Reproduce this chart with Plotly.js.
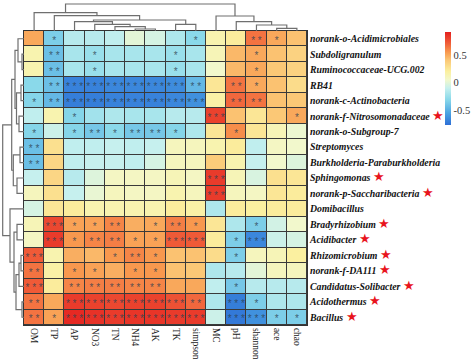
<!DOCTYPE html>
<html><head><meta charset="utf-8">
<script src="https://cdn.plot.ly/plotly-3.0.1.min.js"></script>
<style>html,body{margin:0;padding:0;background:#fff}#chart{width:474px;height:363px}</style>
</head><body><div id="chart"></div>
<script>
// ---------------- data ----------------
const columns = ['OM','TP','AP','NO3','TN','NH4','AK','TK','simpson','MC','pH','shannon','ace','chao'];
const genera = [
  'norank-o-Acidimicrobiales','Subdoligranulum','Ruminococcaceae-UCG.002','RB41',
  'norank-c-Actinobacteria','norank-f-Nitrosomonadaceae','norank-o-Subgroup-7','Streptomyces',
  'Burkholderia-Paraburkholderia','Sphingomonas','norank-p-Saccharibacteria','Domibacillus',
  'Bradyrhizobium','Acidibacter','Rhizomicrobium','norank-f-DA111','Candidatus-Solibacter',
  'Acidothermus','Bacillus'
];
const starred = [false,false,false,false,false,true,false,false,false,true,true,false,true,true,true,true,true,true,true];

// correlation coefficients (rows = genera, columns = factors)
const corrAcidimicrobiales = [0.50,-0.35,-0.15,-0.15,-0.12,0.00,-0.05,-0.18,-0.30,0.15,0.22,0.65,0.50,0.42];
const corrSubdoligranulum  = [0.15,-0.42,-0.20,-0.25,-0.20,-0.20,-0.20,-0.25,-0.20,0.12,0.45,0.50,0.42,0.35];
const corrRuminococcaceae  = [0.15,-0.42,-0.20,-0.25,-0.20,-0.20,-0.20,-0.25,-0.20,0.05,0.45,0.50,0.40,0.35];
const corrRB41             = [-0.30,-0.42,-0.68,-0.68,-0.66,-0.66,-0.66,-0.64,-0.45,0.25,0.65,0.50,0.42,0.30];
const corrActinobacteria   = [-0.32,-0.45,-0.70,-0.70,-0.68,-0.68,-0.68,-0.66,-0.62,0.18,0.68,0.65,0.42,0.40];
const corrNitrosomonad     = [-0.12,0.15,-0.32,-0.22,-0.18,-0.20,-0.20,-0.15,-0.15,0.80,0.42,0.25,0.40,0.50];
const corrSubgroup7        = [-0.32,-0.08,-0.32,-0.38,-0.30,-0.38,-0.38,-0.32,-0.18,0.25,0.58,0.25,0.12,0.03];
const corrStreptomyces     = [-0.42,0.28,-0.12,-0.12,-0.10,-0.12,-0.10,0.10,0.10,0.15,0.22,-0.12,0.08,0.05];
const corrBurkholderia     = [-0.42,0.33,-0.12,-0.10,-0.10,-0.12,-0.05,0.10,0.10,0.38,0.15,-0.10,0.05,-0.02];
const corrSphingomonas     = [-0.10,0.33,-0.15,-0.02,0.08,0.08,0.08,0.12,0.08,0.82,0.12,-0.04,0.28,0.25];
const corrSaccharibacteria = [0.10,0.28,-0.10,0.02,0.10,0.08,0.08,0.15,0.10,0.82,0.10,0.08,0.25,0.22];
const corrDomibacillus     = [-0.05,0.25,0.22,0.15,0.15,0.15,0.15,0.22,0.18,-0.18,0.22,0.20,0.22,0.22];
const corrBradyrhizobium   = [0.12,0.78,0.52,0.52,0.60,0.48,0.50,0.62,0.55,0.25,-0.18,-0.35,-0.06,0.05];
const corrAcidibacter      = [0.08,0.82,0.55,0.60,0.62,0.52,0.52,0.72,0.72,0.22,-0.35,-0.66,-0.08,-0.05];
const corrRhizomicrobium   = [0.72,0.15,0.48,0.45,0.55,0.60,0.55,0.42,0.42,0.30,-0.35,0.10,0.12,0.20];
const corrDA111            = [0.65,0.18,0.55,0.52,0.48,0.55,0.55,0.42,0.40,-0.18,-0.15,0.00,0.10,0.10];
const corrSolibacter       = [0.72,0.22,0.60,0.62,0.62,0.60,0.60,0.50,0.50,-0.12,-0.38,-0.15,-0.15,-0.15];
const corrAcidothermus     = [0.65,0.50,0.82,0.80,0.78,0.80,0.80,0.75,0.68,-0.18,-0.70,-0.35,-0.18,-0.18];
const corrBacillus         = [0.65,0.52,0.88,0.85,0.82,0.84,0.84,0.82,0.82,-0.08,-0.72,-0.62,-0.35,-0.35];

// significance level (number of asterisks)
const sigAcidimicrobiales = [0,1,0,0,0,0,0,0,1,0,0,2,1,0];
const sigSubdoligranulum  = [0,2,0,1,0,0,0,1,0,0,0,1,0,0];
const sigRuminococcaceae  = [0,2,0,1,0,0,0,1,0,0,0,1,0,0];
const sigRB41             = [0,2,3,3,3,3,3,3,2,0,2,1,0,0];
const sigActinobacteria   = [1,2,3,3,3,3,3,3,3,0,2,2,0,0];
const sigNitrosomonad     = [0,0,1,0,0,0,0,0,0,3,0,0,0,1];
const sigSubgroup7        = [1,0,1,2,1,2,2,1,0,0,1,0,0,0];
const sigStreptomyces     = [2,0,0,0,0,0,0,0,0,0,0,0,0,0];
const sigBurkholderia     = [2,0,0,0,0,0,0,0,0,0,0,0,0,0];
const sigSphingomonas     = [0,0,0,0,0,0,0,0,0,3,0,0,0,0];
const sigSaccharibacteria = [0,0,0,0,0,0,0,0,0,3,0,0,0,0];
const sigDomibacillus     = [0,0,0,0,0,0,0,0,0,0,0,0,0,0];
const sigBradyrhizobium   = [0,3,1,1,2,0,1,2,1,0,0,1,0,0];
const sigAcidibacter      = [0,3,1,2,2,1,1,3,3,0,1,3,0,0];
const sigRhizomicrobium   = [3,0,0,0,1,2,1,0,0,0,1,0,0,0];
const sigDA111            = [2,0,1,1,0,1,1,0,0,0,0,0,0,0];
const sigSolibacter       = [3,0,2,2,2,2,2,0,0,0,1,0,0,0];
const sigAcidothermus     = [2,0,3,3,3,3,3,3,2,0,3,1,0,0];
const sigBacillus         = [2,1,3,3,3,3,3,3,3,0,3,3,1,1];

// dendrograms: [left, right, mergeHeight], leaves are indices
const colTree = [
  [0, [1, [[2, [3, [4, [5, 6, 2], 4.3], 6.7], 9.3], [7, 8, 6.7], 11], 15.3], 18.3],
  [9, [10, [11, [12, 13, 2.7], 6], 9.3], 15],
  27
];
const rowTree = [
  [[[0, [1, 2, 2], 6], [[3, 4, 3], [5, 6, 5], 7.5], 9], [[7, 8, 4], [9, 10, 7], 10.7], 12.3],
  [11, [[12, 13, 7], [[[14, 15, 3], 16, 5], [17, 18, 2], 8], 10], 14],
  21.3
];

const zMin = -0.76, zMax = 0.91;
const colorStops = [
  [-0.76,'#2d6fd6'],[-0.55,'#4aa2e2'],[-0.30,'#8ad9ea'],[-0.10,'#c6f0ee'],
  [0.05,'#f2f8cc'],[0.20,'#fbf0a0'],[0.40,'#fbc876'],[0.55,'#f8984e'],
  [0.70,'#f0603a'],[0.91,'#e4201f']
];
const cbTicks = [-0.5, 0, 0.5];
const cbTickText = ['-0.5', '0', '0.5'];

// ---------------- build ----------------
const corr = [corrAcidimicrobiales,corrSubdoligranulum,corrRuminococcaceae,corrRB41,corrActinobacteria,
  corrNitrosomonad,corrSubgroup7,corrStreptomyces,corrBurkholderia,corrSphingomonas,corrSaccharibacteria,
  corrDomibacillus,corrBradyrhizobium,corrAcidibacter,corrRhizomicrobium,corrDA111,corrSolibacter,
  corrAcidothermus,corrBacillus];
const sig = [sigAcidimicrobiales,sigSubdoligranulum,sigRuminococcaceae,sigRB41,sigActinobacteria,
  sigNitrosomonad,sigSubgroup7,sigStreptomyces,sigBurkholderia,sigSphingomonas,sigSaccharibacteria,
  sigDomibacillus,sigBradyrhizobium,sigAcidibacter,sigRhizomicrobium,sigDA111,sigSolibacter,
  sigAcidothermus,sigBacillus];

const nC = columns.length, nR = genera.length;
const colorscale = colorStops.map(s => [(s[0]-zMin)/(zMax-zMin), s[1]]);

function dendro(tree){
  const a = [], b = [];
  function walk(n){
    if (typeof n === 'number') return {p:n, h:0};
    const L = walk(n[0]), R = walk(n[1]), h = n[2];
    a.push(L.p, L.p, R.p, R.p, null);
    b.push(L.h, h, h, R.h, null);
    return {p:(L.p+R.p)/2, h:h};
  }
  walk(tree);
  return {pos:a, h:b};
}
const cd = dendro(colTree), rd = dendro(rowTree);

const sx = [], sy = [], st = [];
for (let r=0;r<nR;r++) for (let c=0;c<nC;c++) if (sig[r][c]>0){
  sx.push(c); sy.push(r+0.17); st.push(Array(sig[r][c]).fill('*').join(' '));
}

const W=474, H=363, hmL=24, hmR=307, hmT=31, hmB=325;

const traces = [
  {type:'heatmap', z:corr, x:columns.map((_,i)=>i), y:genera.map((_,i)=>i),
   zmin:zMin, zmax:zMax, colorscale:colorscale, xgap:1, ygap:1, hoverinfo:'skip',
   colorbar:{x:445/W, xanchor:'left', y:1-32/H, yanchor:'top', len:93/H, lenmode:'fraction',
     thickness:6, outlinewidth:0, ticks:'', tickvals:cbTicks, ticktext:cbTickText, xpad:0, ypad:0,
     tickfont:{family:'Liberation Serif', size:10.5, color:'#333'}}},
  {type:'scatter', mode:'text', x:sx, y:sy, text:st, hoverinfo:'skip', showlegend:false,
   textfont:{family:'Liberation Sans', size:10, color:'rgba(45,65,80,0.8)'}},
  {type:'scatter', mode:'lines', x:cd.pos, y:cd.h, xaxis:'x', yaxis:'y2', hoverinfo:'skip',
   showlegend:false, line:{color:'#6f6f6f', width:1.2}},
  {type:'scatter', mode:'lines', x:rd.h, y:rd.pos, xaxis:'x2', yaxis:'y', hoverinfo:'skip',
   showlegend:false, line:{color:'#6f6f6f', width:1.2}}
];

const layout = {
  width:W, height:H, margin:{l:0,r:0,t:0,b:0}, paper_bgcolor:'#fff', plot_bgcolor:'rgba(0,0,0,0)',
  showlegend:false,
  xaxis:{domain:[hmL/W, hmR/W], range:[-0.5, nC-0.5], anchor:'y', tickmode:'array',
    tickvals:columns.map((_,i)=>i), ticktext:columns, tickangle:90, ticks:'', showgrid:false,
    zeroline:false, showline:true, mirror:true, linecolor:'#333', linewidth:1,
    tickfont:{family:'Liberation Serif', size:9.5, color:'#222'}},
  yaxis:{domain:[1-hmB/H, 1-hmT/H], range:[nR-0.5, -0.5], anchor:'x', side:'right', tickmode:'array',
    tickvals:genera.map((_,i)=>i),
    ticktext:genera.map((g,i)=> g + (starred[i] ? ' <span style="color:#e8141c;font-size:13px;font-style:normal;font-weight:normal">\u2605</span>' : '')),
    ticks:'', showgrid:false, zeroline:false, showline:true, mirror:true, linecolor:'#333', linewidth:1,
    tickfont:{family:'Liberation Serif', size:9.8, color:'#111', weight:'bold', style:'italic'}},
  xaxis2:{domain:[0, hmL/W], range:[hmL, 0], anchor:'y', visible:false, fixedrange:true},
  yaxis2:{domain:[1-hmT/H, 1], range:[0, hmT], anchor:'x', visible:false, fixedrange:true},
  shapes:[{type:'rect', xref:'x', yref:'y', x0:-0.5, x1:nC-0.5, y0:-0.5, y1:nR-0.5,
    fillcolor:'#3a3a3a', line:{width:0}, layer:'below'}]
};

Plotly.newPlot('chart', traces, layout, {staticPlot:true, displayModeBar:false});
</script></body></html>
